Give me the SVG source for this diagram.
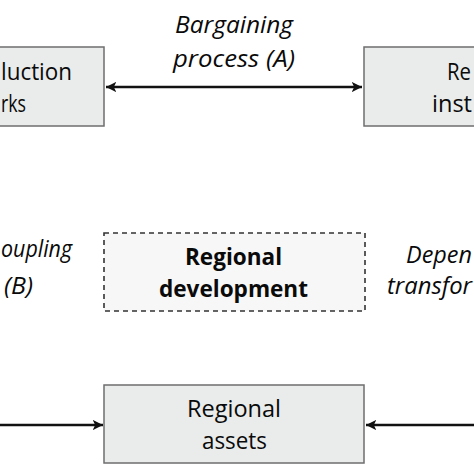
<svg xmlns="http://www.w3.org/2000/svg" width="474" height="474" viewBox="0 0 474 474">
<defs>
<style>
.box{fill:#e9eceb;stroke:#6e6e6e;stroke-width:1.5}
.dash{fill:#f7f7f7;stroke:#333;stroke-width:1.6;stroke-dasharray:5 4}
.t{font-family:"Open Sans","Liberation Sans",sans-serif;font-size:24px;fill:#0a0a0a}
.i{font-style:italic}
.b{font-weight:bold}
.ln{stroke:#111;stroke-width:2.6;fill:none}
</style>
<marker id="ah" viewBox="0 0 10 10" refX="10" refY="5" markerWidth="4" markerHeight="4" orient="auto-start-reverse" markerUnits="strokeWidth">
<path d="M0,0 L10,5 L0,10 L2.5,5 Z" fill="#111"/>
</marker>
</defs>
<rect width="474" height="474" fill="#fff"/>
<g id="connectors">
<line class="ln" x1="106" y1="87" x2="362" y2="87" marker-start="url(#ah)" marker-end="url(#ah)"/>
<line class="ln" x1="0" y1="425" x2="103" y2="425" marker-end="url(#ah)"/>
<line class="ln" x1="474" y1="425" x2="366" y2="425" marker-end="url(#ah)"/>
</g>
<g id="label-a">
<text class="t i" x="175" y="33" textLength="118" lengthAdjust="spacingAndGlyphs">Bargaining</text>
<text class="t i" x="173" y="67" textLength="122" lengthAdjust="spacingAndGlyphs">process (A)</text>
</g>
<g id="node-production">
<rect class="box" x="-10" y="47" width="114" height="79"/>
<text class="t" x="1" y="80" textLength="71" lengthAdjust="spacingAndGlyphs">luction</text>
<text class="t" x="1" y="112" textLength="25" lengthAdjust="spacingAndGlyphs">rks</text>
</g>
<g id="node-institutions">
<rect class="box" x="364" y="47" width="120" height="79"/>
<text class="t" x="447" y="80" textLength="24" lengthAdjust="spacingAndGlyphs">Re</text>
<text class="t" x="432" y="112" textLength="40" lengthAdjust="spacingAndGlyphs">inst</text>
</g>
<g id="label-b">
<text class="t i" x="1" y="257" textLength="71" lengthAdjust="spacingAndGlyphs">oupling</text>
<text class="t i" x="4" y="294" textLength="29" lengthAdjust="spacingAndGlyphs">(B)</text>
</g>
<g id="node-development">
<rect class="dash" x="104" y="233" width="261" height="78"/>
<text class="t b" x="185" y="265" textLength="97" lengthAdjust="spacingAndGlyphs">Regional</text>
<text class="t b" x="159" y="297" textLength="149" lengthAdjust="spacingAndGlyphs">development</text>
</g>
<g id="label-c">
<text class="t i" x="406" y="263" textLength="66" lengthAdjust="spacingAndGlyphs">Depen</text>
<text class="t i" x="387" y="294" textLength="85" lengthAdjust="spacingAndGlyphs">transfor</text>
</g>
<g id="node-assets">
<rect class="box" x="104" y="385" width="260" height="78"/>
<text class="t" x="187" y="417" textLength="94" lengthAdjust="spacingAndGlyphs">Regional</text>
<text class="t" x="202" y="449" textLength="65" lengthAdjust="spacingAndGlyphs">assets</text>
</g>
</svg>
